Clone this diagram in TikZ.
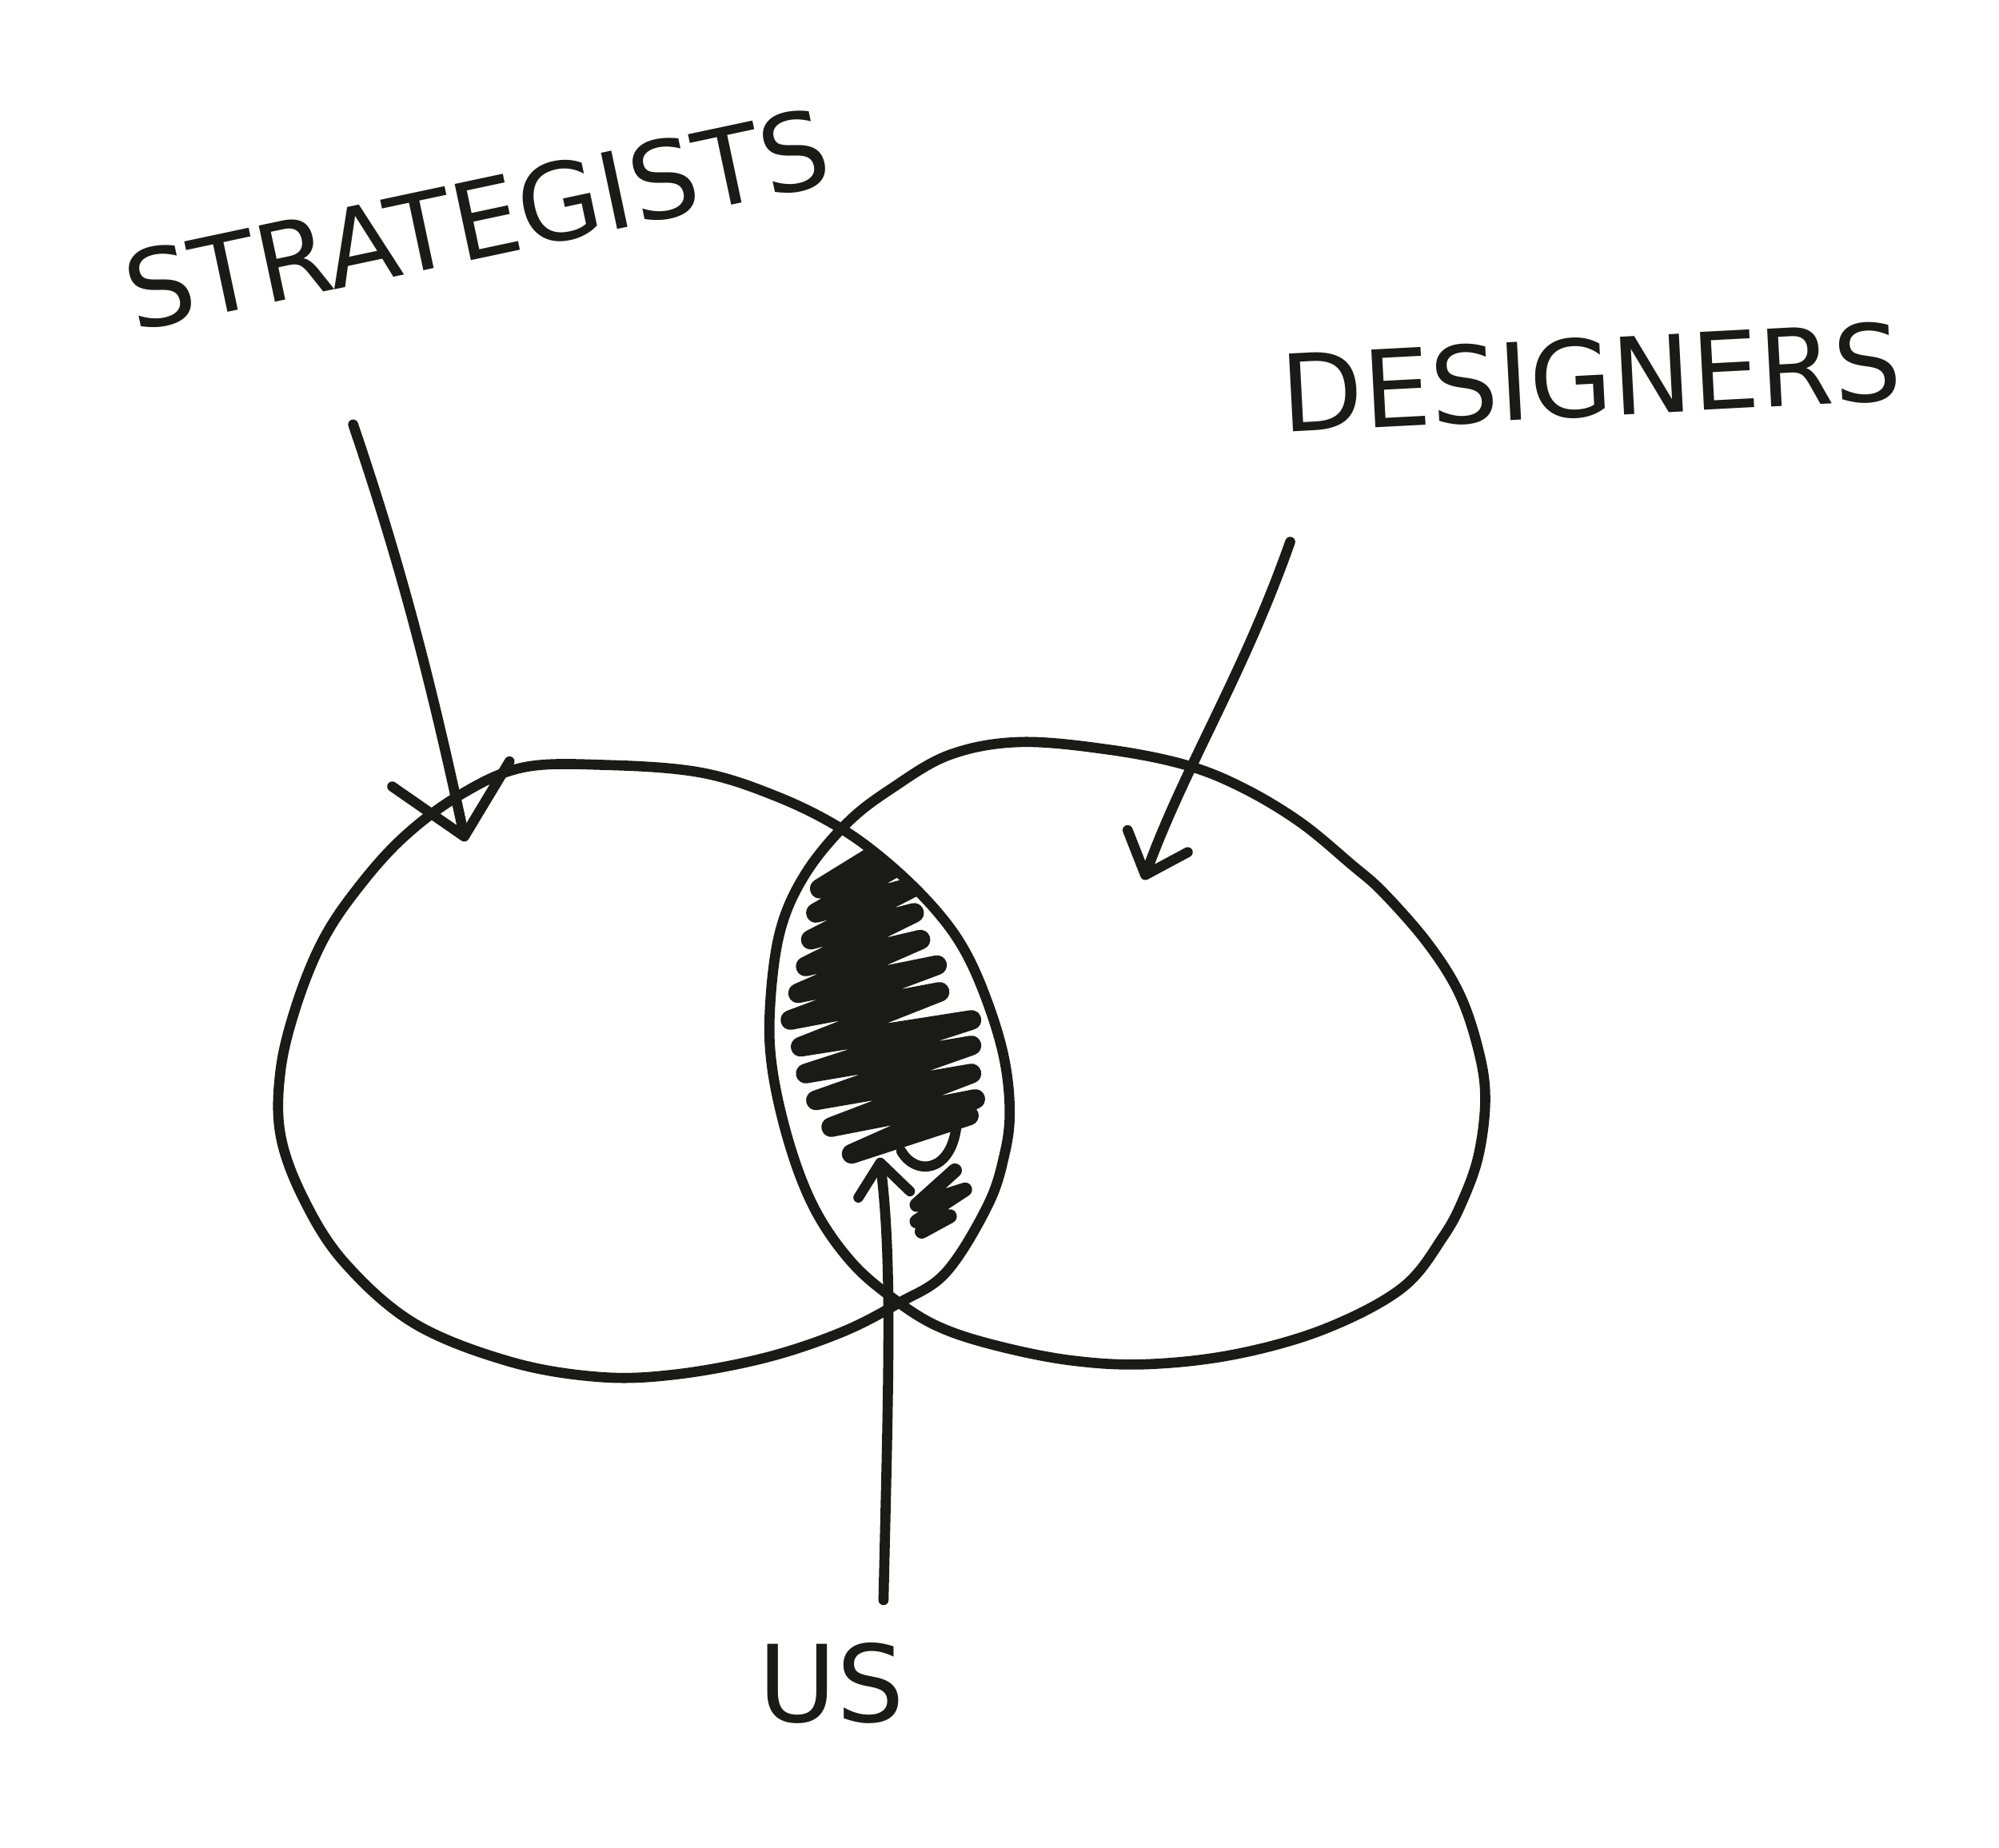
\documentclass[tikz,border=0pt]{standalone}
\usepackage{fontspec}
\setmainfont{DejaVu Sans}
\usetikzlibrary{arrows.meta, positioning}
\definecolor{ink}{HTML}{1A1A17}

\begin{document}
\begin{tikzpicture}[x=0.01594cm, y=-0.01594cm,
    >={Straight Barb[round, length=4.5mm, width=8mm]},
    pen/.style={draw=ink, line width=3.6pt, line cap=round, line join=round},
    scribble/.style={pen, line width=7pt},
    label/.style={font=\fontsize{38}{44}\selectfont, text=ink, inner sep=0pt}]

    \useasboundingbox (0,0) rectangle (1568,1449);

    % labels
    \node[label, rotate=12] (strategists) at (374,172) {STRATEGISTS};
    \node[label, rotate=3] (designers) at (1248,296) {DESIGNERS};
    \node[label] (us) at (652,1320) {US};

    % the two sets
    \draw[pen, save path=\leftset] plot[smooth cycle, tension=0.6] coordinates {
        (475,600) (550,606) (610,625) (660,650) (700,680) (735,715)
        (758,748) (776,790) (788,832) (792,872) (788,905) (775,945)
        (742,998) (705,1022) (660,1045) (600,1065) (530,1078) (470,1080)
        (400,1068) (325,1038) (270,990) (238,940) (220,890) (220,840)
        (232,790) (252,740) (278,700) (315,658) (360,624) (410,602)};
    \draw[pen, save path=\rightset] plot[smooth cycle, tension=0.6] coordinates {
        (800,582) (870,588) (930,600) (975,618) (1020,645) (1060,678)
        (1085,700) (1120,740) (1145,780) (1160,825) (1165,862) (1160,905)
        (1148,940) (1132,970) (1100,1010) (1040,1042) (970,1062) (900,1070)
        (840,1067) (780,1055) (735,1040) (700,1018) (668,990) (640,950)
        (620,900) (606,840) (604,790) (612,730) (632,685) (665,645)
        (700,618) (745,592)};

    % overlap, scribbled in
    \begin{scope}
        \clip[use path=\leftset];
        \clip[use path=\rightset];
        \draw[scribble] (690,668) -- (643,697) -- (708,677) -- (640,716)
            -- (718,695) -- (636,737) -- (717,716) -- (632,758)
            -- (722,737) -- (626,779) -- (735,757) -- (620,800)
            -- (737,778) -- (628,821) -- (762,800) -- (632,842)
            -- (762,820) -- (640,863) -- (762,842) -- (652,884)
            -- (765,862) -- (668,905) -- (760,875);
        \draw[pen] (707,903) .. controls (718,922) and (745,920) .. (750,885);
        \draw[scribble, line width=5pt] (749,918) -- (719,945) -- (757,933)
            -- (719,958) -- (745,954) -- (723,966);
    \end{scope}

    % arrows
    \coordinate (strategists-tail) at (277,333);
    \coordinate (strategists-tip) at (365,660);
    \coordinate (designers-tail) at (1012,425);
    \coordinate (designers-tip) at (897,690);
    \coordinate (us-tail) at (693,1255);
    \coordinate (us-tip) at (690,908);

    \draw[pen, -{Straight Barb[round, length=8mm, width=15mm]}] (strategists-tail)
        .. controls (310,430) and (335,520) .. (strategists-tip);
    \draw[pen, ->] (designers-tail) .. controls (975,530) and (930,600) .. (designers-tip);
    \draw[pen, -{Straight Barb[round, length=4mm, width=6.5mm]}] (us-tail)
        .. controls (697,1080) and (700,990) .. (us-tip);

\end{tikzpicture}
\end{document}
